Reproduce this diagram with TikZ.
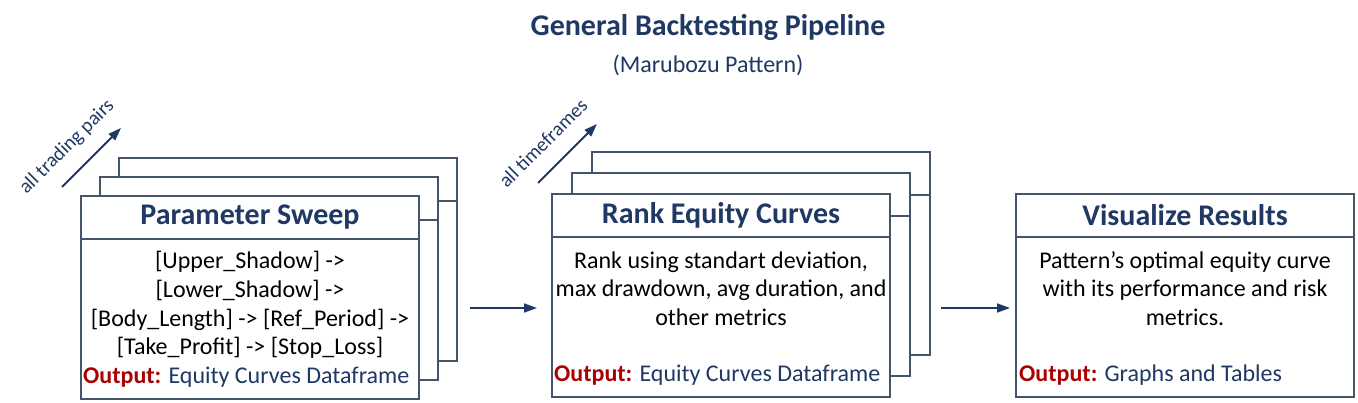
\documentclass[tikz,border=0pt]{standalone}
\usepackage{fontspec}
\setmainfont{Carlito}
\usetikzlibrary{arrows.meta,calc}
\definecolor{navy}{RGB}{31,56,100}
\definecolor{framec}{RGB}{68,84,106}
\definecolor{outred}{RGB}{170,0,0}
\begin{document}
\begin{tikzpicture}[x=1pt,y=-1pt,
  layer/.style={draw=framec, line width=1.2pt, fill=white, minimum width=338pt, minimum height=203pt, anchor=north west, inner sep=0pt, outer sep=0pt},
  hline/.style={draw=framec, line width=1.2pt},
  hdr/.style={font=\fontsize{30}{36}\selectfont\bfseries, text=navy, inner sep=0pt},
  bodytext/.style={font=\fontsize{24}{28.7}\selectfont, align=center, text=black, inner sep=0pt},
  outp/.style={font=\fontsize{24}{28.7}\selectfont, text=navy, anchor=west, inner sep=0pt},
  flow/.style={draw=navy, line width=1.8pt, -{Triangle[length=13pt,width=9pt]}},
  diag/.style={font=\fontsize{20}{24}\selectfont, text=navy, rotate=45, inner sep=0pt}
]
\useasboundingbox (0,0) rectangle (1358,403);

% title
\node[font=\fontsize{30}{36}\selectfont\bfseries, text=navy, anchor=base] (title) at (708,36) {General Backtesting Pipeline};
\node[font=\fontsize{24}{28}\selectfont, text=navy, anchor=base] (subtitle) at (708,73) {(Marubozu Pattern)};

% ---- left stack
\node[layer] (PS3) at (119,158) {};
\draw[hline] ($(PS3.north west)+(0,43)$) -- ($(PS3.north east)+(0,43)$);
\node[layer] (PS2) at (100,177) {};
\draw[hline] ($(PS2.north west)+(0,43)$) -- ($(PS2.north east)+(0,43)$);
\node[layer] (PS1) at (81,196) {};
\draw[hline] ($(PS1.north west)+(0,43)$) -- ($(PS1.north east)+(0,43)$);
\node[hdr] (PSt) at ($(PS1.north)+(0,21.5)$) {Parameter Sweep};
\node[bodytext] (PSb) at (250,305) {{[}Upper\_Shadow{]} ->\\{}{[}Lower\_Shadow{]} ->\\{}{[}Body\_Length{]} -> {[}Ref\_Period{]} ->\\{}{[}Take\_Profit{]} -> {[}Stop\_Loss{]}};
\node[outp] (PSo) at (83,377) {\textcolor{outred}{\bfseries Output:} Equity Curves Dataframe};

% ---- middle stack
\node[layer] (RE3) at (592,152) {};
\draw[hline] ($(RE3.north west)+(0,43)$) -- ($(RE3.north east)+(0,43)$);
\node[layer] (RE2) at (572,173) {};
\draw[hline] ($(RE2.north west)+(0,43)$) -- ($(RE2.north east)+(0,43)$);
\node[layer] (RE1) at (552,194) {};
\draw[hline] ($(RE1.north west)+(0,43)$) -- ($(RE1.north east)+(0,43)$);
\node[hdr] (REt) at ($(RE1.north)+(0,21.5)$) {Rank Equity Curves};
\node[bodytext] (REb) at (721,288.5) {Rank using standart deviation,\\max drawdown, avg duration, and\\other metrics};
\node[outp] (REo) at (554,375) {\textcolor{outred}{\bfseries Output:} Equity Curves Dataframe};

% ---- right box
\node[layer] (VR1) at (1016,194) {};
\draw[hline] ($(VR1.north west)+(0,43)$) -- ($(VR1.north east)+(0,43)$);
\node[hdr] (VRt) at ($(VR1.north)+(0,21.5)$) {Visualize Results};
\node[bodytext] (VRb) at (1185,288.5) {Pattern’s optimal equity curve\\with its performance and risk\\metrics.};
\node[outp] (VRo) at (1019,375) {\textcolor{outred}{\bfseries Output:} Graphs and Tables};

% ---- connectors
\coordinate (f1s) at (470,308);
\coordinate (f1e) at (537,308);
\draw[flow] (f1s) -- (f1e);
\coordinate (f2s) at (941,308);
\coordinate (f2e) at (1010,308);
\draw[flow] (f2s) -- (f2e);

\coordinate (d1s) at (62,187);
\coordinate (d1e) at (121,128);
\draw[flow] (d1s) -- (d1e);
\node[diag] (d1t) at (67,147) {all trading pairs};
\coordinate (d2s) at (538,183);
\coordinate (d2e) at (597,124);
\draw[flow] (d2s) -- (d2e);
\node[diag] (d2t) at (543,143) {all timeframes};
\end{tikzpicture}
\end{document}
